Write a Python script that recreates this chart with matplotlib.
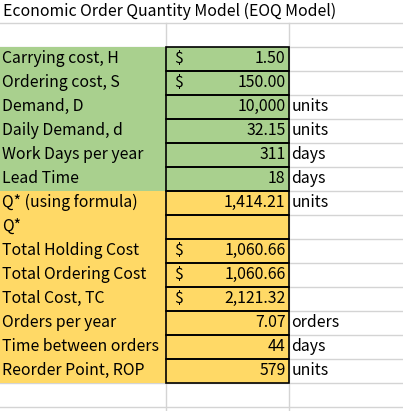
import matplotlib
matplotlib.use("Agg")
import matplotlib.pyplot as plt
from matplotlib.patches import Rectangle

plt.rcParams['font.family'] = ['Noto Sans CJK KR', 'DejaVu Sans']

title = "Economic Order Quantity Model (EOQ Model)"
labels = ["Carrying cost, H", "Ordering cost, S", "Demand, D", "Daily Demand, d",
          "Work Days per year", "Lead Time", "Q* (using formula)", "Q*",
          "Total Holding Cost", "Total Ordering Cost", "Total Cost, TC",
          "Orders per year", "Time between orders", "Reorder Point, ROP"]
dollar = [True, True, False, False, False, False, False, False,
          True, True, True, False, False, False]
values = ["1.50", "150.00", "10,000", "32.15", "311", "18", "1,414.21", "",
          "1,060.66", "1,060.66", "2,121.32", "7.07", "44", "579"]
units = ["", "", "units", "units", "days", "days", "units", "",
         "", "", "", "orders", "days", "units"]
n_green = 6

W, H = 403, 411
fig = plt.figure(figsize=(W / 100, H / 100), dpi=100)
ax = fig.add_axes([0, 0, 1, 1])
ax.set_xlim(0, W)
ax.set_ylim(H, 0)
ax.axis("off")

xA, xB, xC = 0, 165.5, 288.5
top0, rh = 46.7, 24
grid = "#d4d4d4"
green, yellow = "#A9D08E", "#FFD966"
fs = 11.4

# gridlines
for y in [22.7, 46.7] + [top0 + rh * (i + 1) for i in range(len(labels) + 1)]:
    ax.plot([0, W], [y, y], color=grid, lw=1, zorder=1)
for x in [xB, xC]:
    ax.plot([x, x], [22.7, H], color=grid, lw=1, zorder=1)

ax.text(3, 11.5, title, fontsize=fs, va="center", ha="left")

for i, lab in enumerate(labels):
    y0 = top0 + rh * i
    col = green if i < n_green else yellow
    ax.add_patch(Rectangle((xA, y0), xC - xA, rh, facecolor=col, edgecolor="none", zorder=2))
    ax.add_patch(Rectangle((xB, y0), xC - xB, rh, facecolor="none", edgecolor="black",
                           lw=1.2, zorder=4))
    yc = y0 + rh / 2
    ax.text(2, yc, lab, fontsize=fs, va="center", ha="left", zorder=5)
    if dollar[i]:
        ax.text(xB + 9, yc, "$", fontsize=fs, va="center", ha="left", zorder=5)
    ax.text(xC - 3, yc, values[i], fontsize=fs, va="center", ha="right", zorder=5)
    if units[i]:
        ax.text(xC + 3, yc, units[i], fontsize=fs, va="center", ha="left", zorder=5)

fig.savefig("out.png", dpi=100)
